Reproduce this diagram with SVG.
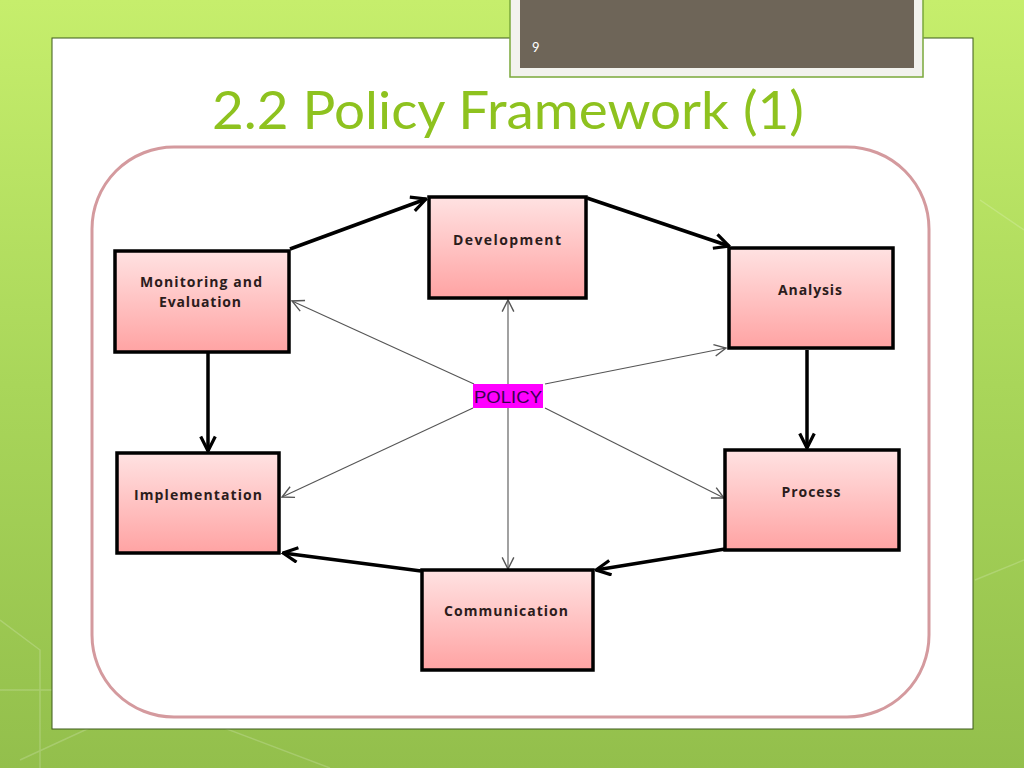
<svg xmlns="http://www.w3.org/2000/svg" width="1024" height="768" viewBox="0 0 1024 768">
<defs>
<linearGradient id="bg" x1="0" y1="0" x2="0" y2="1">
<stop offset="0" stop-color="#c6ee6c"/>
<stop offset="0.5" stop-color="#a9d65a"/>
<stop offset="1" stop-color="#93bf4c"/>
</linearGradient>
<linearGradient id="box" x1="0" y1="0" x2="0" y2="1">
<stop offset="0" stop-color="#ffe2e2"/>
<stop offset="1" stop-color="#ffa3a3"/>
</linearGradient>
<marker id="thick" viewBox="0 0 12 12" refX="11" refY="6" markerWidth="5" markerHeight="5" orient="auto" markerUnits="strokeWidth">
<path d="M1,1 L11,6 L1,11" fill="none" stroke="#000" stroke-width="2.2"/>
</marker>
<marker id="thin" viewBox="0 0 12 12" refX="11" refY="6" markerWidth="14" markerHeight="14" orient="auto" markerUnits="userSpaceOnUse">
<path d="M1,1 L11,6 L1,11" fill="none" stroke="#555" stroke-width="1.2"/>
</marker>
</defs>
<style>
.node rect.b{fill:url(#box);stroke:#000;stroke-width:3.5}
.lbl{font-family:"Open Sans","Liberation Sans",Arial,sans-serif;font-weight:bold;font-size:14px;fill:#2b1c1c;text-anchor:middle}
.thickc{stroke:#000;stroke-width:3.5;fill:none;marker-end:url(#thick)}
.thinc{stroke:#555;stroke-width:1.1;fill:none;marker-end:url(#thin)}
</style>
<rect x="0" y="0" width="1024" height="768" fill="url(#bg)"/>
<g opacity="0.18" stroke="#ffffff" stroke-width="1.5" fill="none">
<path d="M0,620 L40,650 L40,768"/>
<path d="M0,690 L200,690"/>
<path d="M20,760 L150,700 L330,768"/>
<path d="M980,200 L1024,230"/>
<path d="M975,580 L1024,560"/>
</g>
<rect x="52" y="38" width="921" height="691" fill="#ffffff" stroke="#3d5a1a" stroke-width="1"/>
<g id="slide-number">
<rect x="510" y="-2" width="413" height="79" fill="#f2f2ee" stroke="#7aa83a" stroke-width="1.5"/>
<rect x="520" y="-2" width="394" height="70" fill="#6e6558"/>
<text x="532" y="52" font-family="Lato,'Liberation Sans',sans-serif" font-size="13" fill="#ffffff">9</text>
</g>
<text x="508" y="129" font-family="Lato,'Liberation Sans',sans-serif" font-size="52" fill="#8ec21f" text-anchor="middle" textLength="592" lengthAdjust="spacingAndGlyphs">2.2 Policy Framework (1)</text>
<rect x="92" y="147" width="837" height="570" rx="82" ry="82" fill="none" stroke="#d49a9e" stroke-width="3"/>
<g id="connectors">
<line class="thickc" x1="290" y1="249" x2="426" y2="199"/>
<line class="thickc" x1="587" y1="198" x2="729" y2="246"/>
<line class="thickc" x1="807" y1="350" x2="807" y2="448"/>
<line class="thickc" x1="725" y1="549" x2="596" y2="570"/>
<line class="thickc" x1="421" y1="571" x2="283" y2="553"/>
<line class="thickc" x1="208" y1="353" x2="208" y2="451"/>
<line class="thinc" x1="474" y1="384" x2="292" y2="301"/>
<line class="thinc" x1="508" y1="384" x2="508" y2="300"/>
<line class="thinc" x1="545" y1="384" x2="726" y2="348"/>
<line class="thinc" x1="473" y1="408" x2="282" y2="497"/>
<line class="thinc" x1="545" y1="408" x2="724" y2="498"/>
<line class="thinc" x1="508" y1="408" x2="508" y2="569"/>
</g>
<g id="development" class="node">
<rect class="b" x="429" y="197" width="157" height="101"/>
<text class="lbl" x="507" y="245" textLength="108" lengthAdjust="spacing">Development</text>
</g>
<g id="monitoring" class="node">
<rect class="b" x="115" y="251" width="174" height="101"/>
<text class="lbl" x="201" y="287" textLength="122" lengthAdjust="spacing">Monitoring and</text>
<text class="lbl" x="200" y="307" textLength="82" lengthAdjust="spacing">Evaluation</text>
</g>
<g id="analysis" class="node">
<rect class="b" x="729" y="248" width="164" height="100"/>
<text class="lbl" x="810" y="295" textLength="64" lengthAdjust="spacing">Analysis</text>
</g>
<g id="implementation" class="node">
<rect class="b" x="117" y="453" width="162" height="100"/>
<text class="lbl" x="198" y="500" textLength="128" lengthAdjust="spacing">Implementation</text>
</g>
<g id="process" class="node">
<rect class="b" x="725" y="450" width="174" height="100"/>
<text class="lbl" x="811" y="497" textLength="59" lengthAdjust="spacing">Process</text>
</g>
<g id="communication" class="node">
<rect class="b" x="422" y="570" width="171" height="100"/>
<text class="lbl" x="506" y="616" textLength="124" lengthAdjust="spacing">Communication</text>
</g>
<g id="policy">
<rect x="473" y="384" width="70" height="24" fill="#ff00ff"/>
<text x="508" y="403" font-family="'Liberation Sans',Arial,sans-serif" font-size="16" fill="#3a0050" text-anchor="middle" textLength="68" lengthAdjust="spacingAndGlyphs">POLICY</text>
</g>
</svg>
